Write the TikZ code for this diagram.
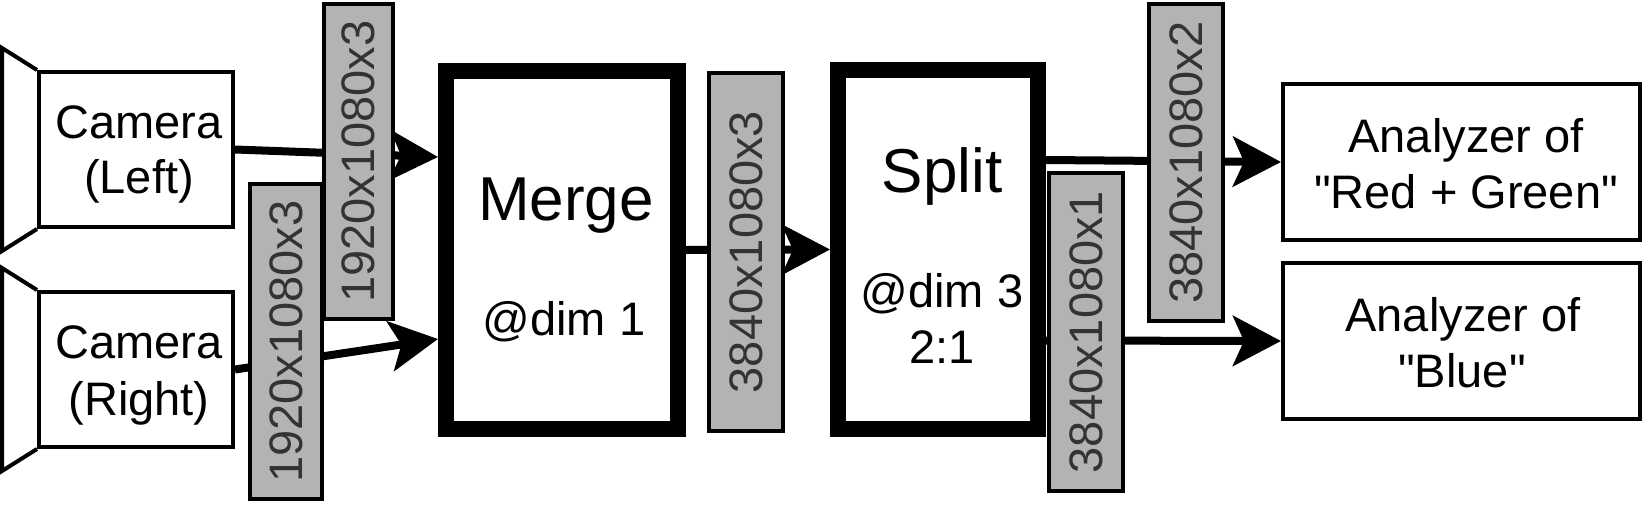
\documentclass[tikz,border=0pt]{standalone}
\usepackage{fontspec}
\setmainfont{Liberation Sans}
\newfontfamily\lsans{Liberation Sans}
\usetikzlibrary{arrows.meta}
\definecolor{lblfill}{HTML}{B3B3B3}
\definecolor{lbltext}{HTML}{333333}
\begin{document}
\begin{tikzpicture}[x=0.5pt,y=-0.5pt,
  thinbox/.style={draw, line width=2pt, fill=white, inner sep=0pt},
  thickbox/.style={draw, line width=8pt, fill=white, inner sep=0pt},
  txt/.style={anchor=base, inner sep=0pt, font=\lsans\fontsize{23.5}{28}\selectfont},
  bigtxt/.style={anchor=base, inner sep=0pt, font=\lsans\fontsize{31}{36}\selectfont},
  dimlbl/.style={draw, line width=2pt, fill=lblfill, text=lbltext, rotate=90, inner sep=0pt, font=\lsans\fontsize{23.5}{28}\selectfont},
  flow/.style={line width=4pt, -{Stealth[length=24pt, width=25pt, inset=5.5pt]}},
  camshape/.style={draw, line width=2pt, line join=miter}
]
\useasboundingbox (0,0) rectangle (1644,504);

% cameras
\node[thinbox, minimum width=97pt, minimum height=77.5pt] (camL) at (136,149.5) {};
\draw[camshape] (camL.north west) -- ++(-35,-22) -- ++(0,203) -- (camL.south west);
\node[thinbox, minimum width=97pt, minimum height=77.5pt] (camR) at (136,369.5) {};
\draw[camshape] (camR.north west) -- ++(-35,-22) -- ++(0,203) -- (camR.south west);

% processing boxes
\node[thickbox, minimum width=116pt, minimum height=179pt] (merge) at (562,250) {};
\node[thickbox, minimum width=100pt, minimum height=179.5pt] (split) at (938,249.5) {};

% analyzers
\node[thinbox, minimum width=178.5pt, minimum height=78pt] (anaT) at (1461.5,162) {};
\node[thinbox, minimum width=178.5pt, minimum height=78pt] (anaB) at (1461.5,341) {};

% texts
\node[txt] (camLa) at (139,138) {Camera};
\node[txt] (camLb) at (139,193) {(Left)};
\node[txt] (camRa) at (139,358) {Camera};
\node[txt] (camRb) at (139,415) {(Right)};
\node[bigtxt] (mergeA) at (566,220) {Merge};
\node[txt] (mergeB) at (564,335) {@dim 1};
\node[bigtxt] (splitA) at (942,192) {Split};
\node[txt] (splitB) at (942,307) {@dim 3};
\node[txt] (splitC) at (942,363) {2:1};
\node[txt] (anaTa) at (1466,152) {Analyzer of};
\node[txt] (anaTb) at (1466,208) {"Red + Green"};
\node[txt] (anaBa) at (1463,331) {Analyzer of};
\node[txt] (anaBb) at (1462,387) {"Blue"};

% connectors
\draw[flow] (camL.east) -- ([yshift=46.5pt]merge.west);
\draw[flow] (camR.east) -- ([yshift=-44.5pt]merge.west);
\draw[flow] (merge.east) -- (split.west);
\draw[flow] ([yshift=44.75pt]split.east) -- (anaT.west);
\draw[flow] ([yshift=-45.5pt]split.east) -- (anaB.west);

% dimension labels
\node[dimlbl, minimum width=157.5pt, minimum height=34.5pt] (L1) at (358.5,161.5) {1920x1080x3};
\node[dimlbl, minimum width=157.5pt, minimum height=36pt] (L2) at (286,341.5) {1920x1080x3};
\node[dimlbl, minimum width=179pt, minimum height=37pt] (L3) at (746,252) {3840x1080x3};
\node[dimlbl, minimum width=159pt, minimum height=37pt] (L4) at (1086,332) {3840x1080x1};
\node[dimlbl, minimum width=158.5pt, minimum height=37pt] (L5) at (1186,162.5) {3840x1080x2};
\end{tikzpicture}
\end{document}
